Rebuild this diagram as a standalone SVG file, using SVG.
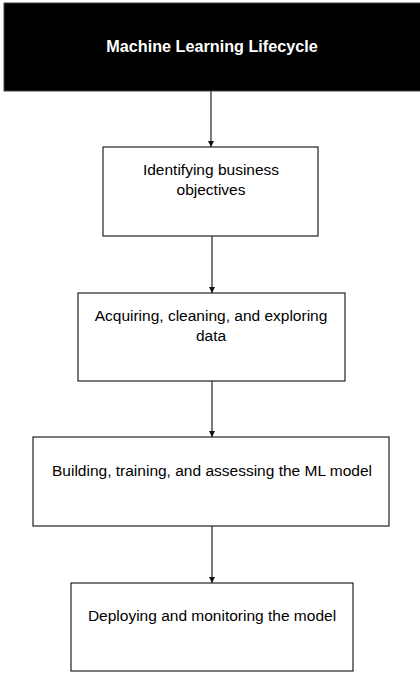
<svg xmlns="http://www.w3.org/2000/svg" width="420" height="680" viewBox="0 0 420 680">
<style>
.box{fill:#fff;stroke:#222;stroke-width:1.2}
.t{font-family:"Liberation Sans",Arial,sans-serif;font-size:15.5px;fill:#000;text-anchor:middle;dominant-baseline:central}
.title{font-family:"Liberation Sans",Arial,sans-serif;font-size:16.2px;font-weight:bold;fill:#fff;text-anchor:middle;dominant-baseline:central}
.c{stroke:#222;stroke-width:1.2;fill:none;marker-end:url(#ah)}
</style>
<defs>
<marker id="ah" viewBox="0 0 10 10" refX="10" refY="5" markerWidth="6" markerHeight="6" markerUnits="userSpaceOnUse" orient="auto">
<path d="M0,0 L10,5 L0,10 Z" fill="#111"/>
</marker>
</defs>
<rect width="420" height="680" fill="#fff"/>
<g id="connectors">
<line class="c" x1="211" y1="91" x2="211" y2="147"/>
<line class="c" x1="212" y1="236" x2="212" y2="293"/>
<line class="c" x1="212" y1="381" x2="212" y2="437"/>
<line class="c" x1="212" y1="526" x2="212" y2="583"/>
</g>
<g id="n0">
<rect x="4" y="3" width="420" height="88" fill="#000" stroke="#444" stroke-width="1"/>
<text class="title" x="212" y="46">Machine Learning Lifecycle</text>
</g>
<g id="n1">
<rect class="box" x="103" y="147" width="215" height="89"/>
<text class="t" x="211" y="169">Identifying business</text>
<text class="t" x="211" y="189">objectives</text>
</g>
<g id="n2">
<rect class="box" x="78" y="293" width="267" height="88"/>
<text class="t" x="211" y="315">Acquiring, cleaning, and exploring</text>
<text class="t" x="211" y="335">data</text>
</g>
<g id="n3">
<rect class="box" x="33" y="437" width="356" height="89"/>
<text class="t" x="212" y="470">Building, training, and assessing the ML model</text>
</g>
<g id="n4">
<rect class="box" x="71" y="583" width="282" height="88"/>
<text class="t" x="212" y="615">Deploying and monitoring the model</text>
</g>
</svg>
